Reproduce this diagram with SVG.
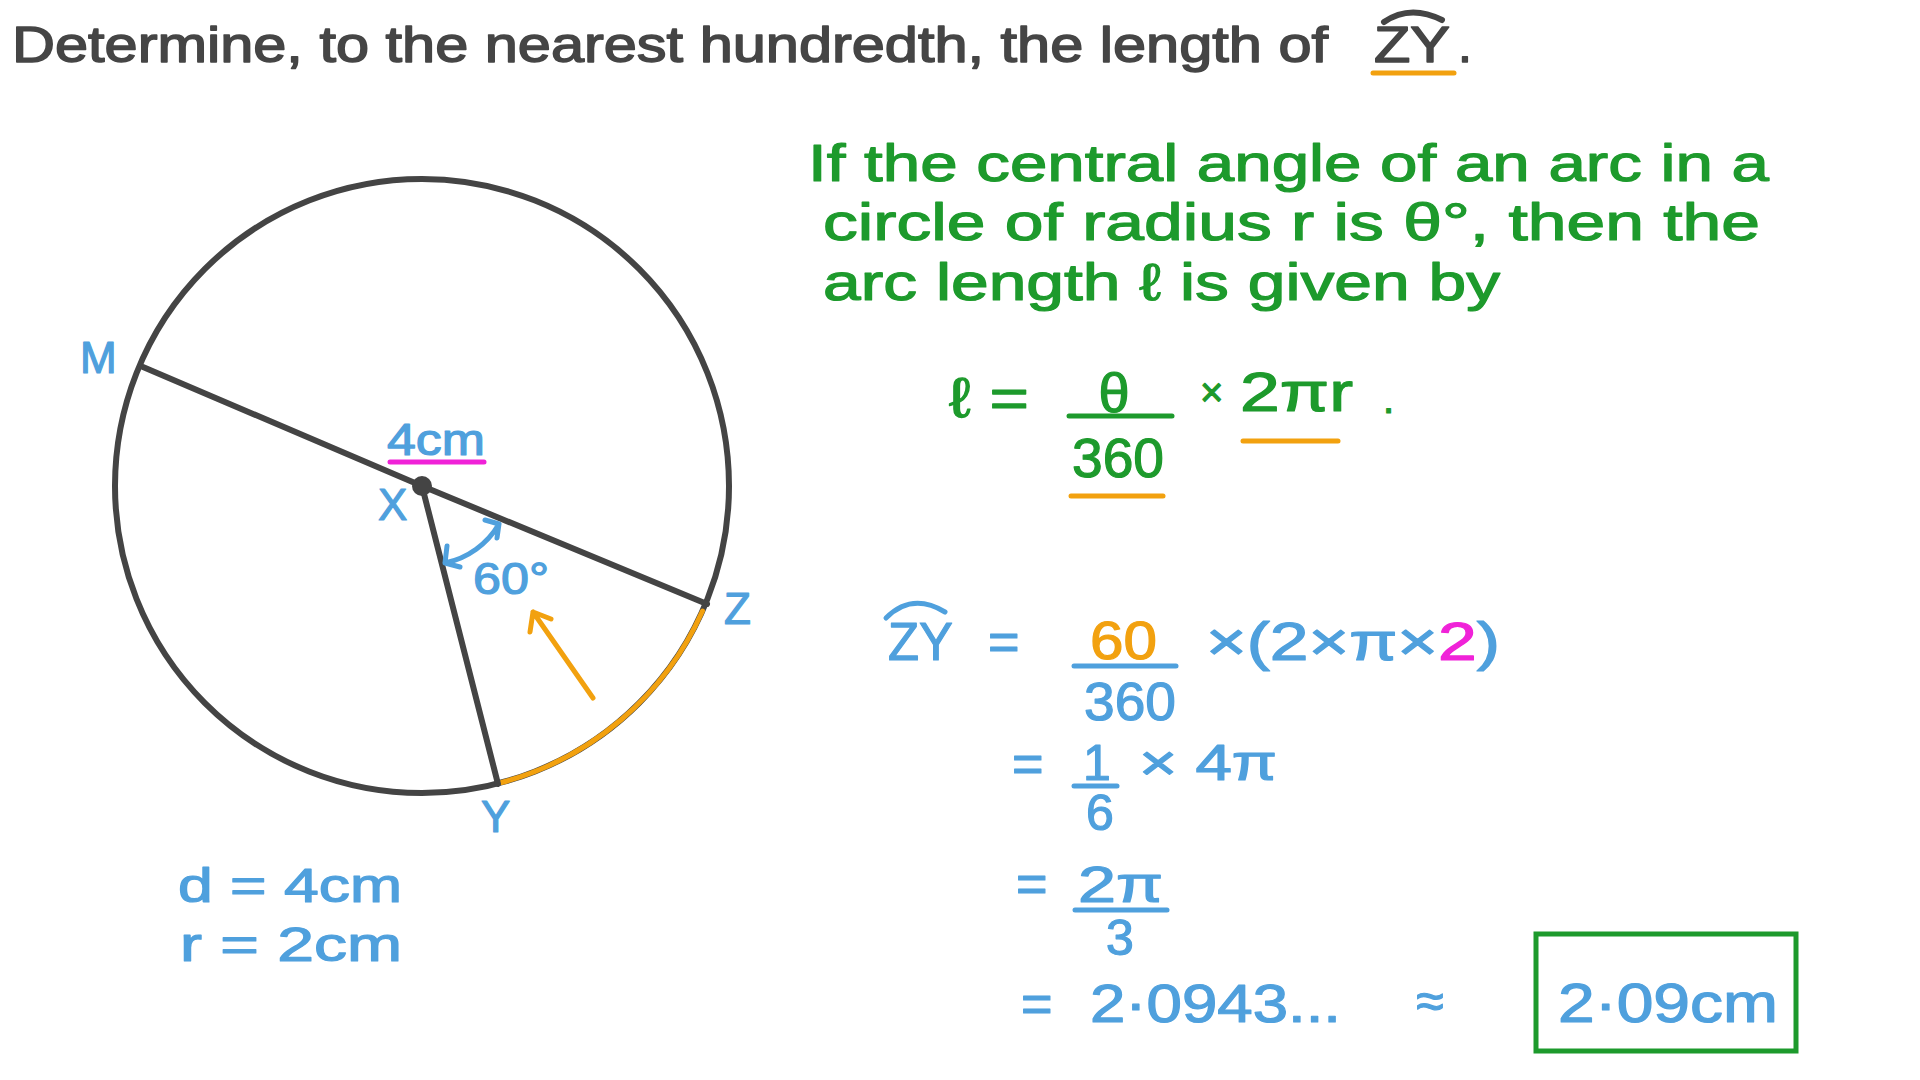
<svg xmlns="http://www.w3.org/2000/svg" width="1920" height="1080" viewBox="0 0 1920 1080">
<defs>
<style>
text{font-family:"Liberation Sans","DejaVu Sans",sans-serif;stroke-linejoin:round;paint-order:stroke}
.dk{fill:#454545;stroke:#454545;stroke-width:1.5}
.gr{fill:#1d9a2c;stroke:#1d9a2c;stroke-width:1.2}
.bl{fill:#4fa0dd;stroke:#4fa0dd;stroke-width:1.2}
.or{fill:#f2a10f;stroke:#f2a10f;stroke-width:1.2}
.pk{fill:#f022d8;stroke:#f022d8;stroke-width:1.2}
.ln{fill:none;stroke:#444;stroke-width:6;stroke-linecap:round}
.ob{fill:none;stroke:#f2a10f;stroke-width:5;stroke-linecap:round;stroke-linejoin:round}
.bb{fill:none;stroke:#4fa0dd;stroke-width:5;stroke-linecap:round;stroke-linejoin:round}
.gb{fill:none;stroke:#1d9a2c;stroke-width:5;stroke-linecap:round}
.pb{fill:none;stroke:#f022d8;stroke-width:5;stroke-linecap:round}
</style>
</defs>
<rect width="1920" height="1080" fill="#ffffff"/>

<g id="title">
<text class="dk" x="12" y="62" font-size="50" textLength="1316" lengthAdjust="spacingAndGlyphs">Determine, to the nearest hundredth, the length of</text>
<text class="dk" x="1374" y="62" font-size="50" textLength="76" lengthAdjust="spacingAndGlyphs">ZY</text>
<text class="dk" x="1458" y="62" font-size="50">.</text>
<path class="ln" d="M1384 22 Q1410 4 1442 20" stroke-width="4"/>
<path class="ob" d="M1373 73 L1454 73" stroke-width="6"/>
</g>

<g id="circle-diagram">
<circle cx="422" cy="486" r="307" class="ln"/>
<path class="ob" d="M702.5 611 A307 307 0 0 1 501.5 782.5" stroke-width="7"/>
<path class="ln" d="M143 367 L422 486 L707 604"/>
<path class="ln" d="M422 486 L498 784"/>
<circle cx="422" cy="486" r="10" fill="#444"/>
<path class="ob" d="M593 698 L533 612 M530 632 L533 612 L551 619" stroke-width="5.5"/>
<path class="bb" d="M445 563 A82 82 0 0 0 499 524 M447 546 L445 563 L460 567 M485 520 L499 524 L497 538" stroke-width="4"/>
<text class="bl" x="80" y="373" font-size="44">M</text>
<text class="bl" x="378" y="520" font-size="44">X</text>
<text class="bl" x="724" y="624" font-size="44">Z</text>
<text class="bl" x="481" y="832" font-size="44">Y</text>
<text class="bl" x="387" y="455" font-size="44" textLength="98" lengthAdjust="spacingAndGlyphs">4cm</text>
<path class="pb" d="M390 462 L484 462"/>
<text class="bl" x="473" y="594" font-size="44" textLength="76" lengthAdjust="spacingAndGlyphs">60°</text>
</g>

<g id="given">
<text class="bl" x="178" y="902" font-size="48" textLength="224" lengthAdjust="spacingAndGlyphs">d = 4cm</text>
<text class="bl" x="180" y="961" font-size="48" textLength="222" lengthAdjust="spacingAndGlyphs">r = 2cm</text>
</g>

<g id="definition">
<text class="gr" x="808" y="181" font-size="52" textLength="961" lengthAdjust="spacingAndGlyphs">If the central angle of an arc in a</text>
<text class="gr" x="823" y="240" font-size="52" textLength="937" lengthAdjust="spacingAndGlyphs">circle of radius r is θ°, then the</text>
<text class="gr" x="823" y="300" font-size="52" textLength="677" lengthAdjust="spacingAndGlyphs">arc length ℓ is given by</text>
</g>

<g id="formula">
<text class="gr" x="949" y="417" font-size="56" textLength="80" lengthAdjust="spacingAndGlyphs">ℓ =</text>
<text class="gr" x="1114" y="412" font-size="56" text-anchor="middle">θ</text>
<path class="gb" d="M1069 416 L1172 416"/>
<text class="gr" x="1118" y="477" font-size="56" text-anchor="middle" textLength="92" lengthAdjust="spacingAndGlyphs">360</text>
<path class="ob" d="M1071 496 L1163 496"/>
<text class="gr" x="1200" y="406" font-size="40">×</text>
<text class="gr" x="1240" y="411" font-size="56" textLength="113" lengthAdjust="spacingAndGlyphs">2πr</text>
<path class="ob" d="M1243 441 L1338 441"/>
<text class="gr" x="1383" y="413" font-size="40">.</text>
</g>

<g id="working">
<text class="bl" x="888" y="660" font-size="54" textLength="65" lengthAdjust="spacingAndGlyphs">ZY</text>
<path class="bb" d="M886 618 Q912 592 945 612" stroke-width="4"/>
<text class="bl" x="988" y="660" font-size="54">=</text>
<text class="or" x="1090" y="659" font-size="54" textLength="67" lengthAdjust="spacingAndGlyphs">60</text>
<path class="bb" d="M1074 666 L1176 666"/>
<text class="bl" x="1084" y="720" font-size="54" textLength="92" lengthAdjust="spacingAndGlyphs">360</text>
<text class="bl" x="1206" y="660" font-size="54" textLength="294" lengthAdjust="spacingAndGlyphs">×(2×π×<tspan class="pk">2</tspan>)</text>

<text class="bl" x="1012" y="782" font-size="54">=</text>
<text class="bl" x="1097" y="780" font-size="50" text-anchor="middle">1</text>
<path class="bb" d="M1074 786 L1117 786"/>
<text class="bl" x="1100" y="830" font-size="50" text-anchor="middle">6</text>
<text class="bl" x="1139" y="780" font-size="50" textLength="138" lengthAdjust="spacingAndGlyphs">× 4π</text>

<text class="bl" x="1016" y="902" font-size="54">=</text>
<text class="bl" x="1078" y="902" font-size="50" textLength="85" lengthAdjust="spacingAndGlyphs">2π</text>
<path class="bb" d="M1075 910 L1167 910"/>
<text class="bl" x="1120" y="955" font-size="50" text-anchor="middle">3</text>

<text class="bl" x="1021" y="1022" font-size="54">=</text>
<text class="bl" x="1090" y="1022" font-size="54" textLength="251" lengthAdjust="spacingAndGlyphs">2·0943...</text>
<text class="bl" x="1430" y="1018" font-size="50" text-anchor="middle">≈</text>
</g>

<g id="answer">
<rect x="1536" y="934" width="260" height="117" fill="none" stroke="#1d9a2c" stroke-width="5"/>
<text class="bl" x="1558" y="1022" font-size="56" textLength="220" lengthAdjust="spacingAndGlyphs">2·09cm</text>
</g>
</svg>
